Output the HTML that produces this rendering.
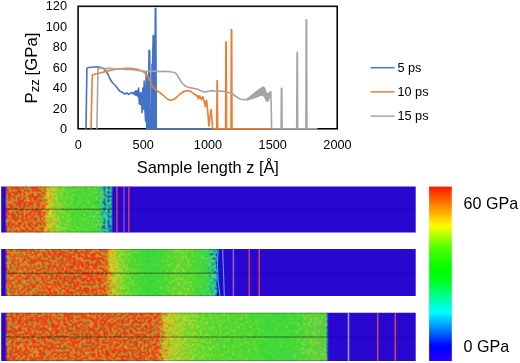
<!DOCTYPE html>
<html><head><meta charset="utf-8"><title>Figure</title>
<style>html,body{margin:0;padding:0;background:#fff}svg{display:block}</style></head>
<body>
<svg width="520" height="363" viewBox="0 0 520 363">
<defs><linearGradient id="g0" gradientUnits="userSpaceOnUse" x1="1.2" x2="415.7" y1="0" y2="0"><stop offset="0.0005" stop-color="rgb(0,0,0)"/><stop offset="0.0106" stop-color="rgb(0,0,0)"/><stop offset="0.0111" stop-color="rgb(196,204,0)"/><stop offset="0.0840" stop-color="rgb(196,204,0)"/><stop offset="0.0960" stop-color="rgb(194,204,0)"/><stop offset="0.1033" stop-color="rgb(184,166,0)"/><stop offset="0.1105" stop-color="rgb(163,107,0)"/><stop offset="0.1201" stop-color="rgb(151,89,0)"/><stop offset="0.1322" stop-color="rgb(141,76,0)"/><stop offset="0.1467" stop-color="rgb(129,69,0)"/><stop offset="0.1780" stop-color="rgb(118,61,0)"/><stop offset="0.2191" stop-color="rgb(116,66,0)"/><stop offset="0.2287" stop-color="rgb(110,128,0)"/><stop offset="0.2384" stop-color="rgb(102,153,0)"/><stop offset="0.2444" stop-color="rgb(92,153,0)"/><stop offset="0.2470" stop-color="rgb(61,153,0)"/><stop offset="0.2490" stop-color="rgb(20,128,0)"/><stop offset="0.2511" stop-color="rgb(61,153,0)"/><stop offset="0.2528" stop-color="rgb(86,153,0)"/><stop offset="0.2560" stop-color="rgb(82,153,0)"/><stop offset="0.2577" stop-color="rgb(51,153,0)"/><stop offset="0.2596" stop-color="rgb(16,102,0)"/><stop offset="0.2618" stop-color="rgb(51,128,0)"/><stop offset="0.2639" stop-color="rgb(73,128,0)"/><stop offset="0.2663" stop-color="rgb(51,128,0)"/><stop offset="0.2683" stop-color="rgb(10,76,0)"/><stop offset="0.2692" stop-color="rgb(0,0,0)"/><stop offset="1.0002" stop-color="rgb(0,0,0)"/></linearGradient>
<clipPath id="c0"><rect x="1.2" y="186.6" width="414.5" height="45.8"/></clipPath>
<filter id="h0" x="0" y="0" width="1" height="1" color-interpolation-filters="sRGB">
<feTurbulence type="fractalNoise" baseFrequency="0.5" numOctaves="2" seed="3" result="t"/>
<feColorMatrix in="t" type="matrix" values="2 0 0 0 -0.5  2 0 0 0 -0.5  2 0 0 0 -0.5  0 0 0 0 1" result="N"/>
<feColorMatrix in="SourceGraphic" type="matrix" values="0 1 0 0 0  0 1 0 0 0  0 1 0 0 0  0 0 0 0 1" result="A"/>
<feColorMatrix in="SourceGraphic" type="matrix" values="1 0 0 0 0  1 0 0 0 0  1 0 0 0 0  0 0 0 0 1" result="M"/>
<feComposite in="A" in2="N" operator="arithmetic" k1="1" k2="-0.5" k3="0" k4="0.5" result="Q"/>
<feComposite in="M" in2="Q" operator="arithmetic" k1="0" k2="1" k3="1" k4="-0.5" result="V"/>
<feComponentTransfer in="V" result="C"><feFuncR type="table" tableValues="0.177 0.115 0.053 0.029 0.043 0.058 0.074 0.089 0.105 0.121 0.139 0.158 0.176 0.194 0.200 0.200 0.200 0.210 0.255 0.320 0.386 0.451 0.568 0.699 0.836 0.940 0.940 0.940 0.940 0.940 0.940 0.940 0.940 0.940 0.940 0.940 0.940 0.940 0.940 0.940 0.940"/><feFuncG type="table" tableValues="0.025 0.026 0.028 0.072 0.213 0.351 0.485 0.613 0.736 0.850 0.850 0.850 0.850 0.850 0.850 0.850 0.850 0.850 0.850 0.850 0.850 0.850 0.850 0.850 0.850 0.826 0.736 0.644 0.551 0.456 0.361 0.264 0.166 0.166 0.166 0.166 0.166 0.166 0.166 0.166 0.166"/><feFuncB type="table" tableValues="0.820 0.820 0.820 0.820 0.820 0.820 0.820 0.820 0.820 0.816 0.711 0.613 0.520 0.432 0.341 0.262 0.227 0.200 0.200 0.200 0.200 0.199 0.184 0.168 0.152 0.139 0.134 0.129 0.124 0.118 0.113 0.108 0.103 0.103 0.103 0.103 0.103 0.103 0.103 0.103 0.103"/></feComponentTransfer>
<feConvolveMatrix order="3" kernelMatrix="1 2 1 2 5 2 1 2 1" divisor="17" edgeMode="duplicate" preserveAlpha="true"/>
</filter>
<linearGradient id="g1" gradientUnits="userSpaceOnUse" x1="1.2" x2="415.7" y1="0" y2="0"><stop offset="0.0005" stop-color="rgb(0,0,0)"/><stop offset="0.0106" stop-color="rgb(0,0,0)"/><stop offset="0.0111" stop-color="rgb(188,204,0)"/><stop offset="0.0936" stop-color="rgb(192,204,0)"/><stop offset="0.1805" stop-color="rgb(198,204,0)"/><stop offset="0.2384" stop-color="rgb(196,204,0)"/><stop offset="0.2480" stop-color="rgb(194,204,0)"/><stop offset="0.2552" stop-color="rgb(184,166,0)"/><stop offset="0.2625" stop-color="rgb(163,107,0)"/><stop offset="0.2721" stop-color="rgb(151,89,0)"/><stop offset="0.2866" stop-color="rgb(139,79,0)"/><stop offset="0.2987" stop-color="rgb(129,71,0)"/><stop offset="0.3156" stop-color="rgb(120,64,0)"/><stop offset="0.3590" stop-color="rgb(106,59,0)"/><stop offset="0.3952" stop-color="rgb(116,64,0)"/><stop offset="0.4338" stop-color="rgb(129,76,0)"/><stop offset="0.4676" stop-color="rgb(116,69,0)"/><stop offset="0.4893" stop-color="rgb(108,82,0)"/><stop offset="0.4989" stop-color="rgb(96,140,0)"/><stop offset="0.5086" stop-color="rgb(82,153,0)"/><stop offset="0.5158" stop-color="rgb(67,153,0)"/><stop offset="0.5206" stop-color="rgb(45,128,0)"/><stop offset="0.5226" stop-color="rgb(0,0,0)"/><stop offset="1.0002" stop-color="rgb(0,0,0)"/></linearGradient>
<clipPath id="c1"><rect x="1.2" y="249.0" width="414.5" height="46.9"/></clipPath>
<filter id="h1" x="0" y="0" width="1" height="1" color-interpolation-filters="sRGB">
<feTurbulence type="fractalNoise" baseFrequency="0.5" numOctaves="2" seed="7" result="t"/>
<feColorMatrix in="t" type="matrix" values="2 0 0 0 -0.5  2 0 0 0 -0.5  2 0 0 0 -0.5  0 0 0 0 1" result="N"/>
<feColorMatrix in="SourceGraphic" type="matrix" values="0 1 0 0 0  0 1 0 0 0  0 1 0 0 0  0 0 0 0 1" result="A"/>
<feColorMatrix in="SourceGraphic" type="matrix" values="1 0 0 0 0  1 0 0 0 0  1 0 0 0 0  0 0 0 0 1" result="M"/>
<feComposite in="A" in2="N" operator="arithmetic" k1="1" k2="-0.5" k3="0" k4="0.5" result="Q"/>
<feComposite in="M" in2="Q" operator="arithmetic" k1="0" k2="1" k3="1" k4="-0.5" result="V"/>
<feComponentTransfer in="V" result="C"><feFuncR type="table" tableValues="0.177 0.115 0.053 0.029 0.043 0.058 0.074 0.089 0.105 0.121 0.139 0.158 0.176 0.194 0.200 0.200 0.200 0.210 0.255 0.320 0.386 0.451 0.568 0.699 0.836 0.940 0.940 0.940 0.940 0.940 0.940 0.940 0.940 0.940 0.940 0.940 0.940 0.940 0.940 0.940 0.940"/><feFuncG type="table" tableValues="0.025 0.026 0.028 0.072 0.213 0.351 0.485 0.613 0.736 0.850 0.850 0.850 0.850 0.850 0.850 0.850 0.850 0.850 0.850 0.850 0.850 0.850 0.850 0.850 0.850 0.826 0.736 0.644 0.551 0.456 0.361 0.264 0.166 0.166 0.166 0.166 0.166 0.166 0.166 0.166 0.166"/><feFuncB type="table" tableValues="0.820 0.820 0.820 0.820 0.820 0.820 0.820 0.820 0.820 0.816 0.711 0.613 0.520 0.432 0.341 0.262 0.227 0.200 0.200 0.200 0.200 0.199 0.184 0.168 0.152 0.139 0.134 0.129 0.124 0.118 0.113 0.108 0.103 0.103 0.103 0.103 0.103 0.103 0.103 0.103 0.103"/></feComponentTransfer>
<feConvolveMatrix order="3" kernelMatrix="1 2 1 2 5 2 1 2 1" divisor="17" edgeMode="duplicate" preserveAlpha="true"/>
</filter>
<linearGradient id="g2" gradientUnits="userSpaceOnUse" x1="1.2" x2="415.7" y1="0" y2="0"><stop offset="0.0005" stop-color="rgb(0,0,0)"/><stop offset="0.0106" stop-color="rgb(0,0,0)"/><stop offset="0.0111" stop-color="rgb(196,204,0)"/><stop offset="0.3590" stop-color="rgb(196,204,0)"/><stop offset="0.3759" stop-color="rgb(194,204,0)"/><stop offset="0.3855" stop-color="rgb(180,158,0)"/><stop offset="0.3928" stop-color="rgb(161,107,0)"/><stop offset="0.4072" stop-color="rgb(151,87,0)"/><stop offset="0.4338" stop-color="rgb(141,76,0)"/><stop offset="0.4724" stop-color="rgb(131,71,0)"/><stop offset="0.5110" stop-color="rgb(122,64,0)"/><stop offset="0.6002" stop-color="rgb(118,61,0)"/><stop offset="0.6485" stop-color="rgb(110,59,0)"/><stop offset="0.6967" stop-color="rgb(110,69,0)"/><stop offset="0.7329" stop-color="rgb(116,97,0)"/><stop offset="0.7595" stop-color="rgb(122,128,0)"/><stop offset="0.7764" stop-color="rgb(118,153,0)"/><stop offset="0.7855" stop-color="rgb(112,140,0)"/><stop offset="0.7870" stop-color="rgb(41,102,0)"/><stop offset="0.7879" stop-color="rgb(0,0,0)"/><stop offset="1.0002" stop-color="rgb(0,0,0)"/></linearGradient>
<clipPath id="c2"><rect x="1.2" y="312.7" width="414.5" height="48.2"/></clipPath>
<filter id="h2" x="0" y="0" width="1" height="1" color-interpolation-filters="sRGB">
<feTurbulence type="fractalNoise" baseFrequency="0.5" numOctaves="2" seed="11" result="t"/>
<feColorMatrix in="t" type="matrix" values="2 0 0 0 -0.5  2 0 0 0 -0.5  2 0 0 0 -0.5  0 0 0 0 1" result="N"/>
<feColorMatrix in="SourceGraphic" type="matrix" values="0 1 0 0 0  0 1 0 0 0  0 1 0 0 0  0 0 0 0 1" result="A"/>
<feColorMatrix in="SourceGraphic" type="matrix" values="1 0 0 0 0  1 0 0 0 0  1 0 0 0 0  0 0 0 0 1" result="M"/>
<feComposite in="A" in2="N" operator="arithmetic" k1="1" k2="-0.5" k3="0" k4="0.5" result="Q"/>
<feComposite in="M" in2="Q" operator="arithmetic" k1="0" k2="1" k3="1" k4="-0.5" result="V"/>
<feComponentTransfer in="V" result="C"><feFuncR type="table" tableValues="0.177 0.115 0.053 0.029 0.043 0.058 0.074 0.089 0.105 0.121 0.139 0.158 0.176 0.194 0.200 0.200 0.200 0.210 0.255 0.320 0.386 0.451 0.568 0.699 0.836 0.940 0.940 0.940 0.940 0.940 0.940 0.940 0.940 0.940 0.940 0.940 0.940 0.940 0.940 0.940 0.940"/><feFuncG type="table" tableValues="0.025 0.026 0.028 0.072 0.213 0.351 0.485 0.613 0.736 0.850 0.850 0.850 0.850 0.850 0.850 0.850 0.850 0.850 0.850 0.850 0.850 0.850 0.850 0.850 0.850 0.826 0.736 0.644 0.551 0.456 0.361 0.264 0.166 0.166 0.166 0.166 0.166 0.166 0.166 0.166 0.166"/><feFuncB type="table" tableValues="0.820 0.820 0.820 0.820 0.820 0.820 0.820 0.820 0.820 0.816 0.711 0.613 0.520 0.432 0.341 0.262 0.227 0.200 0.200 0.200 0.200 0.199 0.184 0.168 0.152 0.139 0.134 0.129 0.124 0.118 0.113 0.108 0.103 0.103 0.103 0.103 0.103 0.103 0.103 0.103 0.103"/></feComponentTransfer>
<feConvolveMatrix order="3" kernelMatrix="1 2 1 2 5 2 1 2 1" divisor="17" edgeMode="duplicate" preserveAlpha="true"/>
</filter>
<linearGradient id="cb" x1="0" x2="0" y1="0" y2="1"><stop offset="0.00" stop-color="rgb(255,21,0)"/><stop offset="0.02" stop-color="rgb(255,42,0)"/><stop offset="0.04" stop-color="rgb(255,62,0)"/><stop offset="0.06" stop-color="rgb(255,83,0)"/><stop offset="0.08" stop-color="rgb(255,104,0)"/><stop offset="0.10" stop-color="rgb(255,124,0)"/><stop offset="0.12" stop-color="rgb(255,145,0)"/><stop offset="0.14" stop-color="rgb(255,165,0)"/><stop offset="0.16" stop-color="rgb(255,186,0)"/><stop offset="0.18" stop-color="rgb(255,207,0)"/><stop offset="0.20" stop-color="rgb(255,227,0)"/><stop offset="0.22" stop-color="rgb(255,248,0)"/><stop offset="0.24" stop-color="rgb(236,255,0)"/><stop offset="0.26" stop-color="rgb(207,255,0)"/><stop offset="0.28" stop-color="rgb(177,255,0)"/><stop offset="0.30" stop-color="rgb(148,255,0)"/><stop offset="0.32" stop-color="rgb(119,255,0)"/><stop offset="0.34" stop-color="rgb(89,255,0)"/><stop offset="0.36" stop-color="rgb(75,255,0)"/><stop offset="0.38" stop-color="rgb(60,255,0)"/><stop offset="0.40" stop-color="rgb(46,255,0)"/><stop offset="0.42" stop-color="rgb(31,255,0)"/><stop offset="0.44" stop-color="rgb(17,255,0)"/><stop offset="0.46" stop-color="rgb(8,255,0)"/><stop offset="0.48" stop-color="rgb(0,255,2)"/><stop offset="0.50" stop-color="rgb(0,255,11)"/><stop offset="0.52" stop-color="rgb(0,255,20)"/><stop offset="0.54" stop-color="rgb(0,255,30)"/><stop offset="0.56" stop-color="rgb(0,255,55)"/><stop offset="0.58" stop-color="rgb(0,255,80)"/><stop offset="0.60" stop-color="rgb(0,255,105)"/><stop offset="0.62" stop-color="rgb(0,255,130)"/><stop offset="0.64" stop-color="rgb(0,255,155)"/><stop offset="0.66" stop-color="rgb(0,255,180)"/><stop offset="0.68" stop-color="rgb(0,255,205)"/><stop offset="0.70" stop-color="rgb(0,255,230)"/><stop offset="0.72" stop-color="rgb(0,255,255)"/><stop offset="0.74" stop-color="rgb(0,229,255)"/><stop offset="0.76" stop-color="rgb(0,203,255)"/><stop offset="0.78" stop-color="rgb(0,177,255)"/><stop offset="0.80" stop-color="rgb(0,151,255)"/><stop offset="0.82" stop-color="rgb(0,125,255)"/><stop offset="0.84" stop-color="rgb(0,99,255)"/><stop offset="0.86" stop-color="rgb(0,73,255)"/><stop offset="0.88" stop-color="rgb(0,47,255)"/><stop offset="0.90" stop-color="rgb(0,21,255)"/><stop offset="0.92" stop-color="rgb(0,3,255)"/><stop offset="0.94" stop-color="rgb(8,0,255)"/><stop offset="0.96" stop-color="rgb(20,0,255)"/><stop offset="0.98" stop-color="rgb(31,0,255)"/><stop offset="1.00" stop-color="rgb(42,0,255)"/></linearGradient></defs>
<rect width="520" height="363" fill="#fff"/>
<rect x="78.1" y="6.3" width="259.1" height="122.5" fill="none" stroke="#080808" stroke-width="1.6"/>
<polyline points="86.0,128.8 86.9,68.2 88.5,67.5 92.0,67.2 97.0,66.8 100.0,67.2 102.5,68.0 104.5,69.2 106.5,71.8 108.3,75.0 109.8,78.5 111.5,81.5 113.6,83.8 116.0,86.2 119.6,91.0 122.0,92.3 124.7,94.0 127.0,93.0 129.0,94.5 131.0,92.6 132.5,93.6 133.0,92.6 133.7,93.8 134.4,92.2 135.1,95.0 135.8,90.7 136.5,95.3 137.2,90.9 137.9,96.7 138.6,88.1 139.3,104.0 140.0,92.9 140.7,104.8 141.4,93.0 142.1,112.6 142.8,88.0 143.5,108.9 144.2,81.1 144.9,108.6 145.6,121.3 146.2,72.8 146.7,128.6 147.3,76.3 147.8,120.7 148.3,128.8 149.0,50.4 149.6,128.8 149.7,50.6 150.2,128.8 151.6,128.8 152.0,64.0 152.3,128.8 152.7,58.0 153.2,35.3 153.6,128.8 153.9,36.0 154.2,128.8 154.6,60.0 154.9,128.8 155.3,8.4 155.7,128.8 155.8,8.6 156.3,128.8 212.5,128.8" fill="none" stroke="#4472C4" stroke-width="1.6" stroke-linejoin="round"/>
<polyline points="91.0,128.8 92.3,75.0 94.0,74.4 98.0,73.5 103.0,72.2 108.0,70.9 113.0,69.8 118.0,69.0 123.0,68.5 128.0,68.2 132.0,68.5 136.0,69.0 140.0,70.3 144.4,72.4 147.0,75.5 150.0,81.0 152.6,86.5 156.0,90.0 161.0,93.3 165.0,97.0 168.0,99.5 170.7,100.3 174.0,99.3 177.0,97.0 180.0,94.0 184.0,91.5 188.2,90.6 191.0,91.5 194.5,94.4 195.6,94.6 196.8,96.2 197.5,95.6 198.3,98.9 199.0,97.0 199.8,95.9 200.6,98.2 201.4,99.7 202.2,97.6 202.9,96.7 203.6,99.5 204.4,102.7 204.8,101.5 205.2,106.5 206.0,102.5 206.7,100.5 207.3,108.0 207.8,112.0 208.3,119.0 208.9,126.2 209.6,120.0 210.3,114.0 211.2,109.5 211.8,118.0 212.3,125.0 212.7,128.8 216.7,128.8 217.1,80.7 217.3,80.7 217.7,128.8 225.6,128.8 225.9,42.0 226.2,42.0 226.6,128.8 231.0,128.8 231.3,29.9 231.7,29.9 232.0,128.8 271.5,128.8" fill="none" stroke="#ED7D31" stroke-width="1.6" stroke-linejoin="round"/>
<polyline points="96.9,128.8 98.0,68.2 100.0,67.9 105.0,68.6 110.0,68.3 115.0,69.0 120.0,68.8 125.0,69.5 130.0,69.3 135.0,70.2 140.0,70.6 145.0,71.2 150.0,71.4 155.0,71.0 160.0,71.6 165.0,71.2 170.0,71.8 173.0,72.2 175.0,72.8 176.9,74.5 179.0,78.0 181.0,81.7 183.0,84.0 185.0,85.8 188.0,87.2 191.3,87.9 194.0,88.5 197.5,89.3 200.0,90.3 203.0,91.6 205.8,92.0 208.0,91.2 212.0,90.6 216.0,91.3 220.0,91.0 224.4,91.4 228.0,92.3 232.6,94.0 236.0,96.5 239.0,98.6 241.0,99.3 244.0,99.6 246.0,99.8 246.5,99.4 247.0,100.0 247.5,98.7 248.0,99.7 248.5,97.9 249.0,99.3 249.5,97.2 250.0,99.0 250.5,96.4 251.0,98.7 251.5,95.6 252.0,98.4 252.5,94.8 253.0,98.1 253.5,94.0 254.0,97.8 254.5,93.2 255.0,97.5 255.5,92.4 256.0,97.1 256.5,91.7 257.0,96.7 257.5,90.9 258.0,96.3 258.5,90.1 259.0,95.9 259.5,89.4 260.0,95.5 260.5,88.7 261.0,95.3 261.5,88.1 262.0,95.2 262.5,87.4 263.0,95.0 263.5,87.3 264.0,96.5 264.5,88.1 265.0,98.0 265.5,90.0 266.0,100.3 266.5,93.0 267.0,101.3 267.5,93.7 268.0,101.0 268.5,93.5 269.0,98.9 269.5,92.4 270.0,96.8 270.8,91.5 271.3,110.0 271.6,128.8 281.1,128.8 281.4,88.2 281.8,88.2 282.1,128.8 296.7,128.8 297.1,52.4 297.4,52.4 297.7,128.8 305.9,128.8 306.2,19.8 306.6,19.8 306.9,128.8 317.5,128.8" fill="none" stroke="#A5A5A5" stroke-width="1.6" stroke-linejoin="round"/>
<g font-family="Liberation Sans, Arial, sans-serif" font-size="12" fill="#000">
<text transform="translate(67.0,132.9) scale(1.060,1)" text-anchor="end">0</text>
<text transform="translate(67.0,112.5) scale(1.060,1)" text-anchor="end">20</text>
<text transform="translate(67.0,92.1) scale(1.060,1)" text-anchor="end">40</text>
<text transform="translate(67.0,71.7) scale(1.060,1)" text-anchor="end">60</text>
<text transform="translate(67.0,51.2) scale(1.060,1)" text-anchor="end">80</text>
<text transform="translate(67.0,30.8) scale(1.060,1)" text-anchor="end">100</text>
<text transform="translate(67.0,10.4) scale(1.060,1)" text-anchor="end">120</text>
<text transform="translate(78.4,148.8) scale(1.060,1)" text-anchor="middle">0</text>
<text transform="translate(143.2,148.8) scale(1.060,1)" text-anchor="middle">500</text>
<text transform="translate(208.0,148.8) scale(1.060,1)" text-anchor="middle">1000</text>
<text transform="translate(272.7,148.8) scale(1.060,1)" text-anchor="middle">1500</text>
<text transform="translate(337.5,148.8) scale(1.060,1)" text-anchor="middle">2000</text>
<text transform="translate(397.4,71.8) scale(1.060,1)" text-anchor="start">5 ps</text><text transform="translate(397.4,95.9) scale(1.060,1)" text-anchor="start">10 ps</text><text transform="translate(397.4,120.1) scale(1.060,1)" text-anchor="start">15 ps</text>
</g>
<g font-family="Liberation Sans, Arial, sans-serif" font-size="16.4" fill="#000">
<text x="136.8" y="172.6">Sample length z [Å]</text>
<text transform="translate(37.3,103.5) rotate(-90) scale(1.02,1)">P<tspan font-size="13" dy="2">zz </tspan><tspan dy="-2">[GPa]</tspan></text>
<text x="463.6" y="208.6" font-size="16.1">60 GPa</text>
<text x="463.6" y="351.8" font-size="16.1">0 GPa</text>
</g>
<line x1="370.7" x2="394.6" y1="67.7" y2="67.7" stroke="#4472C4" stroke-width="1.5"/>
<line x1="370.7" x2="394.6" y1="91.9" y2="91.9" stroke="#ED7D31" stroke-width="1.5"/>
<line x1="370.7" x2="394.6" y1="116.1" y2="116.1" stroke="#A5A5A5" stroke-width="1.5"/>
<g clip-path="url(#c0)"><rect x="-2.8" y="182.6" width="422.5" height="53.8" fill="url(#g0)" filter="url(#h0)"/></g>
<rect x="116.15" y="186.6" width="1.5" height="45.8" fill="#e05050" opacity="0.85"/>
<rect x="123.35" y="186.6" width="1.5" height="45.8" fill="#c05898" opacity="0.70"/>
<rect x="128.15" y="186.6" width="1.5" height="45.8" fill="#e05050" opacity="0.85"/>
<rect x="5.8" y="186.6" width="107.0" height="0.9" fill="#100800" opacity="0.28"/>
<rect x="5.8" y="231.5" width="107.0" height="0.9" fill="#100800" opacity="0.28"/>
<rect x="6.0" y="208.7" width="106.8" height="1" fill="#100800" opacity="0.5"/>
<rect x="112.8" y="208.7" width="302.9" height="1" fill="#000" opacity="0.12"/>
<g clip-path="url(#c1)"><rect x="-2.8" y="245.0" width="422.5" height="54.9" fill="url(#g1)" filter="url(#h1)"/></g>
<rect x="232.65" y="249.0" width="1.5" height="46.9" fill="#b898b8" opacity="0.68"/>
<rect x="248.55" y="249.0" width="1.5" height="46.9" fill="#e05050" opacity="0.85"/>
<rect x="258.45" y="249.0" width="1.5" height="46.9" fill="#e84848" opacity="0.90"/>
<path d="M218.3 249.0 Q216.0 272.4 220.0 295.9" fill="none" stroke="#48c8e8" stroke-width="1.1" opacity="0.85"/>
<path d="M222.6 249.0 Q223.6 272.4 224.3 295.9" fill="none" stroke="#48c8e8" stroke-width="1.1" opacity="0.85"/>
<rect x="5.8" y="249.0" width="212.0" height="0.9" fill="#100800" opacity="0.28"/>
<rect x="5.8" y="295.0" width="212.0" height="0.9" fill="#100800" opacity="0.28"/>
<rect x="6.0" y="272.7" width="211.8" height="1" fill="#100800" opacity="0.5"/>
<rect x="217.8" y="272.7" width="197.9" height="1" fill="#000" opacity="0.12"/>
<g clip-path="url(#c2)"><rect x="-2.8" y="308.7" width="422.5" height="56.2" fill="url(#g2)" filter="url(#h2)"/></g>
<rect x="347.75" y="312.7" width="1.5" height="48.2" fill="#b0d0c0" opacity="0.80"/>
<rect x="376.95" y="312.7" width="1.5" height="48.2" fill="#e05050" opacity="0.85"/>
<rect x="394.55" y="312.7" width="1.5" height="48.2" fill="#e84848" opacity="0.90"/>
<rect x="5.8" y="312.7" width="322.0" height="0.9" fill="#100800" opacity="0.28"/>
<rect x="5.8" y="360.0" width="322.0" height="0.9" fill="#100800" opacity="0.28"/>
<rect x="6.0" y="336.5" width="321.8" height="1" fill="#100800" opacity="0.5"/>
<rect x="327.8" y="336.5" width="87.9" height="1" fill="#000" opacity="0.12"/>
<rect x="429.1" y="186.6" width="22.7" height="174.4" fill="url(#cb)"/>
</svg>
</body></html>
